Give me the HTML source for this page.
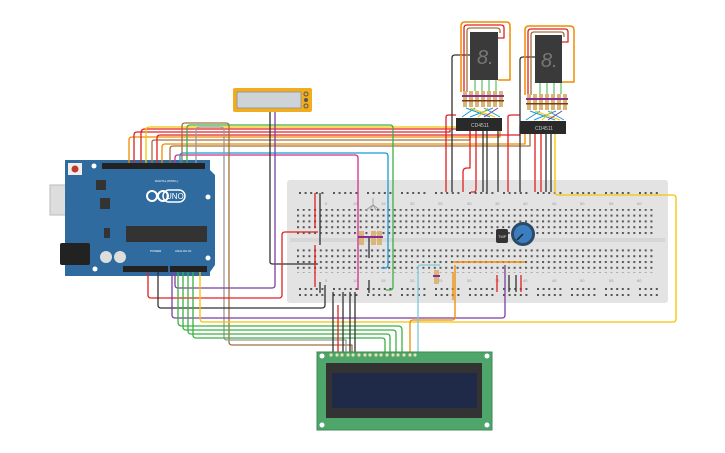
<!DOCTYPE html>
<html><head><meta charset="utf-8"><style>
html,body{margin:0;padding:0;background:#fff;}
svg{display:block;font-family:"Liberation Sans",sans-serif;}
</style></head><body>
<svg width="725" height="453" viewBox="0 0 725 453" xmlns="http://www.w3.org/2000/svg">
<defs>
<pattern id="holes" x="297" y="0" width="5.7" height="5.8" patternUnits="userSpaceOnUse"><rect x="0" y="0" width="2" height="2" fill="#555"/></pattern>
<pattern id="rail" x="299" y="0" width="34" height="6" patternUnits="userSpaceOnUse">
<rect x="0" y="0" width="2" height="2" fill="#555"/><rect x="5.6" y="0" width="2" height="2" fill="#555"/><rect x="11.2" y="0" width="2" height="2" fill="#555"/><rect x="16.8" y="0" width="2" height="2" fill="#555"/><rect x="22.4" y="0" width="2" height="2" fill="#555"/></pattern>
</defs>

<!-- breadboard -->
<rect x="287" y="180" width="381" height="123" rx="3" fill="#e3e3e3"/>
<rect x="299" y="188" width="360" height="8" fill="url(#rail)"/>
<rect x="299" y="288" width="360" height="8" fill="url(#rail)"/>
<rect x="297" y="209" width="356" height="26" fill="url(#holes)"/>
<rect x="297" y="246" width="356" height="27" fill="url(#holes)"/>
<line x1="290" y1="240" x2="665" y2="240" stroke="#d6d6d6" stroke-width="4"/>
<g font-size="4" fill="#999"><text x="325" y="205">5</text><text x="353" y="205">10</text><text x="381" y="205">15</text><text x="410" y="205">20</text><text x="438" y="205">25</text><text x="467" y="205">30</text><text x="495" y="205">35</text><text x="523" y="205">40</text><text x="552" y="205">45</text><text x="580" y="205">50</text><text x="609" y="205">55</text><text x="637" y="205">60</text>
<text x="325" y="282">5</text><text x="353" y="282">10</text><text x="381" y="282">15</text><text x="410" y="282">20</text><text x="438" y="282">25</text><text x="467" y="282">30</text><text x="495" y="282">35</text><text x="523" y="282">40</text><text x="552" y="282">45</text><text x="580" y="282">50</text><text x="609" y="282">55</text><text x="637" y="282">60</text></g>

<!-- arduino -->
<rect x="50" y="185" width="36" height="30" fill="#ddd" stroke="#bbb"/>
<path d="M65 160 H210 V170 L215 175 V265 L210 272 V276 H65 Z" fill="#2f6b9e"/>
<rect x="60" y="243" width="30" height="22" fill="#222" rx="2"/>
<rect x="68" y="163" width="14" height="12" fill="#eee"/><circle cx="75" cy="169" r="3.5" fill="#c0392b"/>
<circle cx="106" cy="257" r="6" fill="#ddd"/><circle cx="120" cy="257" r="6" fill="#ddd"/>
<rect x="126" y="226" width="81" height="16" fill="#333"/>
<rect x="100" y="198" width="10" height="11" fill="#333"/>
<rect x="96" y="180" width="10" height="10" fill="#333"/>
<rect x="104" y="228" width="6" height="10" fill="#333"/>
<rect x="102" y="163" width="103" height="6" fill="#222"/>
<rect x="123" y="266" width="45" height="6" fill="#222"/>
<rect x="170" y="266" width="37" height="6" fill="#222"/>
<circle cx="152" cy="196" r="5" fill="none" stroke="#fff" stroke-width="2"/><circle cx="163" cy="196" r="5" fill="none" stroke="#fff" stroke-width="2"/>
<rect x="163" y="190" width="22" height="12" rx="6" fill="none" stroke="#fff" stroke-width="1.5"/>
<text x="166" y="199" font-size="8" fill="#fff">UNO</text>
<g fill="#fff"><circle cx="94" cy="166" r="2.5"/><circle cx="95" cy="269" r="2.5"/><circle cx="208" cy="258" r="2.5"/><circle cx="208" cy="197" r="2.5"/></g>
<g font-size="3" fill="#fff"><text x="155" y="182">DIGITAL (PWM~)</text><text x="175" y="252">ANALOG IN</text><text x="150" y="252">POWER</text></g>

<!-- mini lcd -->
<rect x="233" y="88" width="79" height="24" rx="2" fill="#f3ad1c"/>
<rect x="237" y="92" width="64" height="16" fill="#cdd3d6" stroke="#999"/>
<circle cx="306" cy="94" r="2" fill="none" stroke="#555"/><circle cx="306" cy="100" r="2" fill="#555"/><circle cx="306" cy="106" r="2" fill="none" stroke="#555"/>

<!-- wires -->
<g fill="none" stroke-width="1.3" stroke-linejoin="round">
<!-- top bundle from arduino -->
<path d="M129 163 V140 Q129 137 132 137 H500 V130" stroke="#f08c00"/>
<path d="M134 163 V135 Q134 132 137 132 H450 V130" stroke="#e02020"/>
<path d="M141 163 V133 Q141 129 145 129 H460 V128" stroke="#e02020"/>
<path d="M146 163 V130 Q146 127 150 127 H466 V128" stroke="#f5c400"/>
<path d="M152 163 V142 Q152 140 155 140 H470 V131" stroke="#a07040"/>
<path d="M157 163 V138 Q157 135 160 135 H520 V125" stroke="#e02020"/>
<path d="M162 163 V147 Q162 144 165 144 H525 V131" stroke="#f08c00"/>
<path d="M170 163 V149 Q170 146 173 146 H530 V134" stroke="#a07040"/>
<path d="M175 163 V158 Q175 155 178 155 H355 Q358 155 358 158 V290" stroke="#d0308a"/>
<path d="M180 163 V156 Q180 153 183 153 H385 Q388 153 388 156 V265 Q388 268 385 268 H381" stroke="#1a9ad6"/>
<path d="M187 163 V128 Q187 125 190 125 H390 Q393 125 393 128 V287 Q393 290 390 290 H386" stroke="#3cb043"/>
<path d="M182 163 V126 Q182 123 185 123 H226 Q229 123 229 126 V342 Q229 345 232 345 H352 V355" stroke="#a07040"/>
<path d="M196 163 V131 Q196 127 200 127 H220 Q224 127 224 131 V337 Q224 340 227 340 H346 V355" stroke="#999"/>
<!-- mini lcd wires -->
<path d="M270 112 V262 Q270 264 273 264 H318" stroke="#333"/>
<path d="M275 112 V285 Q275 288 272 288 H178 Q175 288 175 285 V272" stroke="#7b3fa0"/>
<!-- arduino bottom -->
<path d="M148 272 V295 Q148 298 151 298 H279 Q282 298 282 295 V235 Q282 232 285 232 H318" stroke="#e02020"/>
<path d="M158 272 V305 Q158 308 161 308 H322 Q325 308 325 305 V285" stroke="#333"/>
<path d="M172 272 V315 Q172 318 175 318 H502 Q505 318 505 315 V265" stroke="#7b3fa0"/>
<path d="M200 272 V318 Q200 322 203 322 H673 Q676 322 676 319 V198 Q676 195 673 195 H558 Q555 195 555 192 V131" stroke="#f5c400"/>
<path d="M178 272 V322 Q178 326 182 326 H398 Q402 326 402 330 V355" stroke="#3cb043"/>
<path d="M183 272 V327 Q183 330 186 330 H393 Q396 330 396 333 V355" stroke="#3cb043"/>
<path d="M188 272 V331 Q188 334 191 334 H387 Q390 334 390 337 V355" stroke="#3cb043"/>
<path d="M193 272 V335 Q193 338 196 338 H382 Q385 338 385 341 V355" stroke="#3cb043"/>
<!-- breadboard to lcd -->
<path d="M333 292 V355" stroke="#333"/>
<path d="M338 305 V355" stroke="#e02020"/>
<path d="M343 292 V355" stroke="#333"/>
<path d="M350 292 V355" stroke="#333"/>
<path d="M355 292 V355" stroke="#333"/>
<path d="M455 265 V317 Q455 320 452 320 H413 Q410 320 410 323 V355" stroke="#f08c00"/>
<path d="M418 355 V268 Q418 265 421 265 H440" stroke="#7cc8d8"/>
<!-- rails -->
<path d="M315 193 V228 M315 245 V287" stroke="#e02020"/>
<path d="M320 193 V245" stroke="#333"/>
<path d="M320 282 V293" stroke="#333"/>
<path d="M369 237 V258" stroke="#333"/>
<path d="M369 280 V293" stroke="#333"/>
<path d="M453 262 H525" stroke="#f08c00" stroke-width="1.6"/>
<path d="M453 272 V300" stroke="#f08c00"/>
<path d="M497 275 V292 M521 275 V292" stroke="#e02020"/>
<path d="M509 275 V292 M516 275 V292" stroke="#333"/>
<!-- chip to breadboard -->
<path d="M446 192 V117 Q446 115 449 115 H456" stroke="#e02020"/>
<path d="M452 192 V58 Q452 55 455 55 H471" stroke="#333"/>
<path d="M463 192 V172 Q463 168 467 168 H470 V131" stroke="#e02020"/>
<path d="M471 192 H474 Q476 192 476 189 V131" stroke="#e02020"/>
<path d="M483 192 V131 M498 192 V131" stroke="#333"/>
<path d="M487 192 V131" stroke="#333"/>
<path d="M508 192 V117 Q508 115 511 115 H520" stroke="#e02020"/>
<path d="M520 192 V60 Q520 57 523 57 H536" stroke="#333"/>
<path d="M535 192 V134 M541 192 V134" stroke="#e02020"/>
<path d="M546 192 V134" stroke="#333"/>
<path d="M551 192 V134" stroke="#333"/>
<!-- 7seg orange/red loops -->
<path d="M461 92 V26 Q461 22 465 22 H506 Q510 22 510 26 V80 H498" stroke="#f08c00" stroke-width="1.5"/>
<path d="M464 92 V28 Q464 25 467 25 H501 Q504 25 504 28 V38 H498" stroke="#e02020"/>
<path d="M467 92 V31 Q467 28 470 28 H497 Q500 28 500 31 V33" stroke="#a07040"/>
<path d="M525 95 V30 Q525 26 529 26 H570 Q574 26 574 30 V82 H562" stroke="#f08c00" stroke-width="1.5"/>
<path d="M528 95 V32 Q528 29 531 29 H565 Q568 29 568 32 V42 H562" stroke="#e02020"/>
<path d="M531 95 V35 Q531 32 534 32 H561 Q564 32 564 35 V37" stroke="#a07040"/>
</g>

<!-- 7 segment displays -->
<rect x="470" y="32" width="28" height="48" fill="#3a3a3a"/>
<text x="477" y="64" font-size="20" fill="#777" font-style="italic">8.</text>
<rect x="535" y="35" width="27" height="48" fill="#3a3a3a"/>
<text x="541" y="67" font-size="20" fill="#777" font-style="italic">8.</text>
<!-- resistors -->
<g fill="#d9b577">
<rect x="463" y="91" width="4" height="16"/><rect x="469" y="91" width="4" height="16"/><rect x="475" y="91" width="4" height="16"/><rect x="481" y="91" width="4" height="16"/><rect x="487" y="91" width="4" height="16"/><rect x="493" y="91" width="4" height="16"/><rect x="499" y="91" width="4" height="16"/>
<rect x="527" y="94" width="4" height="16"/><rect x="533" y="94" width="4" height="16"/><rect x="539" y="94" width="4" height="16"/><rect x="545" y="94" width="4" height="16"/><rect x="551" y="94" width="4" height="16"/><rect x="557" y="94" width="4" height="16"/><rect x="563" y="94" width="4" height="16"/>
</g>
<rect x="462" y="95" width="42" height="2" fill="#8e2b8e"/><rect x="462" y="100" width="42" height="1.5" fill="#7a3a10"/>
<rect x="526" y="98" width="42" height="2" fill="#8e2b8e"/><rect x="526" y="103" width="42" height="1.5" fill="#7a3a10"/>
<g stroke-width="1" fill="none">
<path d="M466 108 L490 117 M475 108 L462 117 M484 108 L500 117 M493 108 L470 117" stroke="#1a9ad6"/>
<path d="M470 108 L495 117 M488 108 L478 117" stroke="#f5c400"/>
<path d="M498 108 L484 117" stroke="#7b3fa0"/>
<path d="M530 111 L555 120 M540 111 L526 120 M548 111 L564 120 M556 111 L534 120" stroke="#1a9ad6"/>
<path d="M535 111 L560 120 M552 111 L542 120" stroke="#f5c400"/>
<path d="M562 111 L548 120" stroke="#7b3fa0"/>
<path d="M475 80 L475 91 M482 80 L482 91 M489 80 L489 91 M496 80 L496 91" stroke="#3cb043"/>
<path d="M540 83 L540 94 M547 83 L547 94 M554 83 L554 94 M561 83 L561 94" stroke="#3cb043"/>
</g>
<!-- chips -->
<rect x="456" y="118" width="46" height="13" fill="#2a2a2a"/>
<text x="471" y="127" font-size="5" fill="#ccc">CD4511</text>
<rect x="520" y="121" width="46" height="13" fill="#2a2a2a"/>
<text x="535" y="130" font-size="5" fill="#ccc">CD4511</text>

<!-- breadboard components -->
<rect x="359" y="231" width="5" height="14" fill="#d9b577"/><rect x="371" y="231" width="5" height="14" fill="#d9b577"/><rect x="377" y="231" width="5" height="14" fill="#d9b577"/>
<rect x="358" y="236" width="25" height="2" fill="#8e2b8e"/>
<rect x="434" y="270" width="5" height="14" fill="#d9b577"/><rect x="433" y="275" width="7" height="2" fill="#8e2b8e"/>
<path d="M373 198 V205 M366 210 L373 205 L380 210 M370 210 L373 205 L376 210" stroke="#999" fill="none" stroke-width="0.8"/>
<rect x="496" y="229" width="12" height="14" rx="2" fill="#333"/>
<text x="498" y="238" font-size="4" fill="#ddd">TMP</text>
<circle cx="523" cy="234" r="12" fill="#2a4a66"/><circle cx="523" cy="234" r="9" fill="#3a7dc0"/>
<line x1="523" y1="234" x2="517" y2="240" stroke="#222" stroke-width="1.5"/>

<!-- LCD -->
<rect x="317" y="352" width="175" height="78" fill="#4ea66b" stroke="#3d8a55"/>
<g fill="#fff"><circle cx="322" cy="356" r="2.5"/><circle cx="487" cy="356" r="2.5"/><circle cx="322" cy="425" r="2.5"/><circle cx="487" cy="425" r="2.5"/></g>
<rect x="326" y="363" width="156" height="55" fill="#333"/>
<rect x="332" y="373" width="145" height="35" fill="#1e2a48"/>
<g fill="#e8e0b0"><circle cx="331" cy="355" r="1.6"/><circle cx="337" cy="355" r="1.6"/><circle cx="342" cy="355" r="1.6"/><circle cx="348" cy="355" r="1.6"/><circle cx="353" cy="355" r="1.6"/><circle cx="359" cy="355" r="1.6"/><circle cx="365" cy="355" r="1.6"/><circle cx="370" cy="355" r="1.6"/><circle cx="376" cy="355" r="1.6"/><circle cx="381" cy="355" r="1.6"/><circle cx="387" cy="355" r="1.6"/><circle cx="393" cy="355" r="1.6"/><circle cx="398" cy="355" r="1.6"/><circle cx="404" cy="355" r="1.6"/><circle cx="410" cy="355" r="1.6"/><circle cx="415" cy="355" r="1.6"/></g>
</svg>
</body></html>
